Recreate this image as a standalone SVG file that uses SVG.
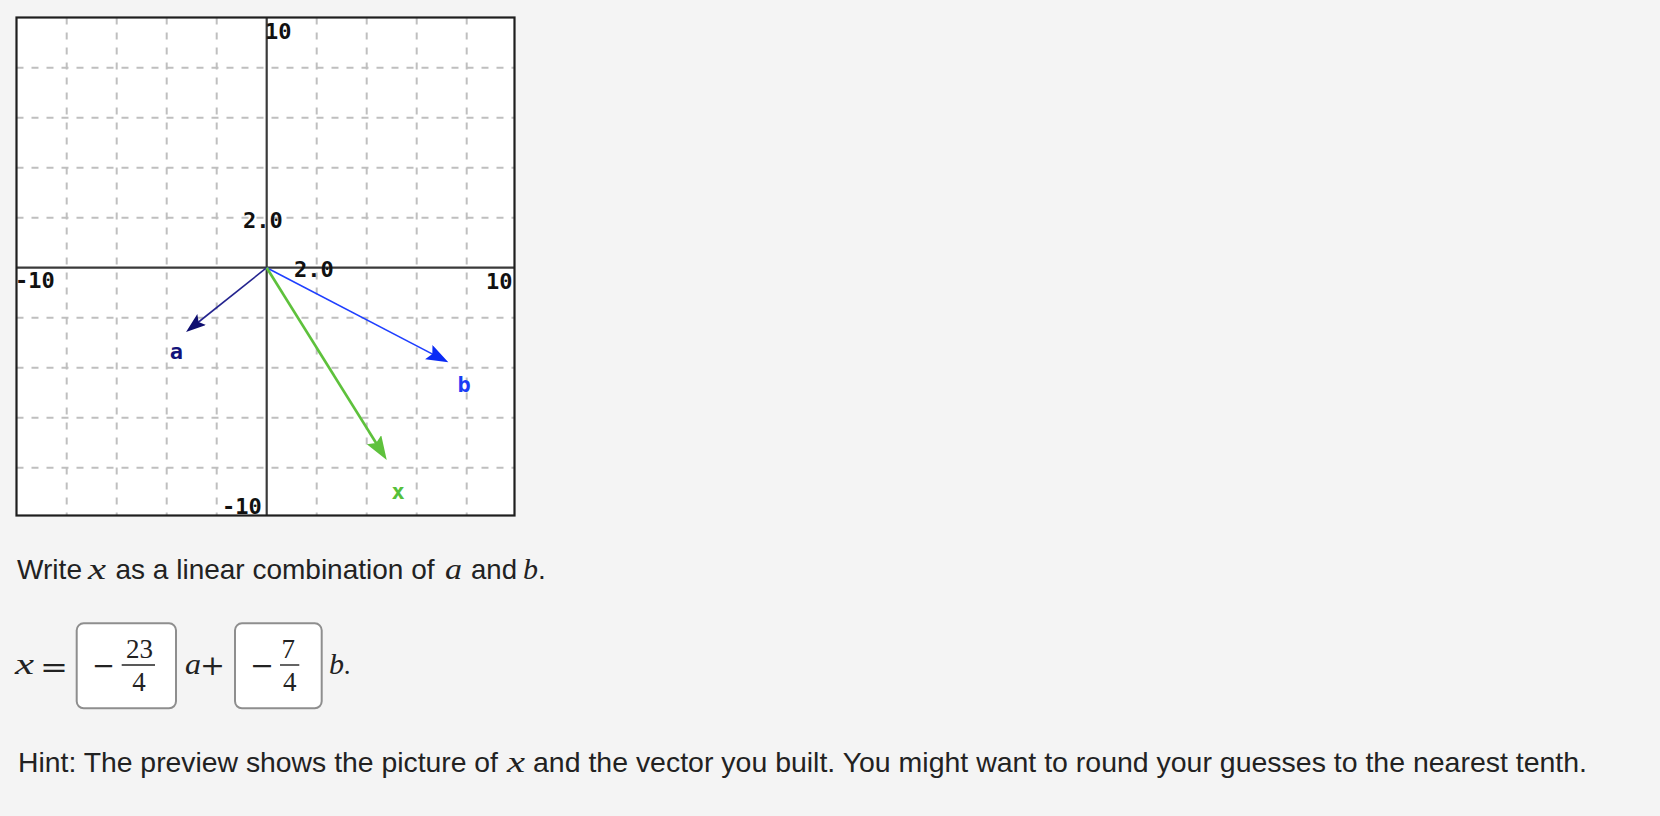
<svg xmlns="http://www.w3.org/2000/svg" width="1660" height="816" viewBox="0 0 1660 816">
<style>
.grid{stroke:#bfbfbf;stroke-width:2;stroke-dasharray:7 8;fill:none}
.axis{stroke:#3a3a3a;stroke-width:2.2}
.lbl{font-family:"DejaVu Sans Mono","Liberation Mono",monospace;font-weight:bold;font-size:22px;fill:#111}
.vl{font-family:"DejaVu Sans Mono","Liberation Mono",monospace;font-weight:bold;font-size:22px;text-anchor:middle}
.txt{font-family:"Liberation Sans",Arial,sans-serif;font-size:28px;fill:#222}
.mi{font-family:"Liberation Serif","Times New Roman",serif;font-style:italic;font-size:29px;fill:#222}
.mn{font-family:"Liberation Serif","Times New Roman",serif;font-size:27px;fill:#222;text-anchor:middle}
.op{font-family:"DejaVu Serif",serif;font-size:28px;fill:#222}
.inbox{fill:#fff;stroke:#8e8e8e;stroke-width:2}
.frac{stroke:#222;stroke-width:1.4}
</style>
<defs>
<marker id="ha" markerUnits="userSpaceOnUse" orient="auto" markerWidth="22" markerHeight="16" refX="12" refY="7" viewBox="0 0 22 16"><path d="M0,0 L20,7 L0,14 L4,7 z" fill="#0e0e70"/></marker>
<marker id="hb" markerUnits="userSpaceOnUse" orient="auto" markerWidth="24" markerHeight="18" refX="14" refY="8" viewBox="0 0 24 18"><path d="M0,0 L22,8 L0,16 L4,8 z" fill="#0a2af5"/></marker>
<marker id="hx" markerUnits="userSpaceOnUse" orient="auto" markerWidth="26" markerHeight="19" refX="16" refY="8.5" viewBox="0 0 26 19"><path d="M0,0 L24,8.5 L0,17 L4,8.5 z" fill="#5ec13c"/></marker>
</defs>
<rect x="0" y="0" width="1660" height="816" fill="#f4f4f4"/>

<g id="plot">
<rect x="16.5" y="17.5" width="498" height="498" fill="#fff"/>
<g id="grid" class="grid">
<path d="M66.7,17.5V515.5M116.7,17.5V515.5M166.7,17.5V515.5M216.7,17.5V515.5M316.7,17.5V515.5M366.7,17.5V515.5M416.7,17.5V515.5M466.7,17.5V515.5"/>
<path d="M16.5,67.7H514.5M16.5,117.7H514.5M16.5,167.7H514.5M16.5,217.7H514.5M16.5,317.7H514.5M16.5,367.7H514.5M16.5,417.7H514.5M16.5,467.7H514.5"/>
</g>
<g id="axes" class="axis">
<line x1="266.7" y1="17.5" x2="266.7" y2="515.5"/>
<line x1="16.5" y1="267.7" x2="514.5" y2="267.7"/>
</g>
<rect x="16.5" y="17.5" width="498" height="498" fill="none" stroke="#1e1e1e" stroke-width="2.2"/>
<g id="axis-labels" class="lbl">
<text x="265" y="39">10</text>
<text x="243" y="228">2.0</text>
<text x="294" y="277">2.0</text>
<text x="15" y="288">-10</text>
<text x="486" y="289">10</text>
<text x="222" y="514">-10</text>
</g>
</g>

<g id="connectors" fill="none">
<path id="vec-a" d="M266.7,267.7 L192.3,327" stroke="#24248f" stroke-width="1.6" marker-end="url(#ha)"/>
<path id="vec-b" d="M266.7,267.7 L441.2,358.6" stroke="#1f3fff" stroke-width="1.6" marker-end="url(#hb)"/>
<path id="vec-x" d="M266.7,267.7 L382.5,453.2" stroke="#5ec13c" stroke-width="2.6" marker-end="url(#hx)"/>
</g>
<g id="label-a"><text class="vl" x="176.3" y="359" fill="#12127a">a</text></g>
<g id="label-b"><text class="vl" x="464" y="392" fill="#1a3cf5">b</text></g>
<g id="label-x"><text class="vl" x="398" y="499" fill="#55c03a">x</text></g>

<g id="question">
<text class="txt" x="17" y="579" textLength="65" lengthAdjust="spacingAndGlyphs">Write</text>
<text class="mi" x="88" y="579" textLength="18" lengthAdjust="spacingAndGlyphs">x</text>
<text class="txt" x="115.5" y="579" textLength="319" lengthAdjust="spacingAndGlyphs">as a linear combination of</text>
<text class="mi" x="445" y="579" textLength="17" lengthAdjust="spacingAndGlyphs">a</text>
<text class="txt" x="471" y="579" textLength="46" lengthAdjust="spacingAndGlyphs">and</text>
<text class="mi" x="523" y="579" textLength="15" lengthAdjust="spacingAndGlyphs">b</text>
<text class="txt" x="538" y="579">.</text>
</g>

<g id="equation">
<text class="mi" x="15" y="674" textLength="19" lengthAdjust="spacingAndGlyphs">x</text>
<text class="op" x="40" y="677" textLength="28" lengthAdjust="spacingAndGlyphs">=</text>
<g id="input-1">
<rect class="inbox" x="76.7" y="623.3" width="99.3" height="85" rx="7"/>
<text class="op" x="92" y="675" textLength="23" lengthAdjust="spacingAndGlyphs">−</text>
<text class="mn" x="139.5" y="657.7">23</text>
<line class="frac" x1="121.7" y1="665" x2="155" y2="665"/>
<text class="mn" x="138.9" y="691">4</text>
</g>
<text class="mi" x="185" y="674" textLength="16" lengthAdjust="spacingAndGlyphs">a</text>
<text class="op" x="200" y="675" textLength="25" lengthAdjust="spacingAndGlyphs">+</text>
<g id="input-2">
<rect class="inbox" x="235" y="623.3" width="86.7" height="85" rx="7"/>
<text class="op" x="250" y="675" textLength="24" lengthAdjust="spacingAndGlyphs">−</text>
<text class="mn" x="288.3" y="657.7">7</text>
<line class="frac" x1="280" y1="665" x2="299.3" y2="665"/>
<text class="mn" x="289.7" y="691">4</text>
</g>
<text class="mi" x="329" y="674" textLength="15" lengthAdjust="spacingAndGlyphs">b</text>
<text class="mn" x="347" y="674">.</text>
</g>

<g id="hint">
<text class="txt" x="18" y="772" textLength="480" lengthAdjust="spacingAndGlyphs">Hint: The preview shows the picture of</text>
<text class="mi" x="507" y="772" textLength="18" lengthAdjust="spacingAndGlyphs">x</text>
<text class="txt" x="533" y="772" textLength="1054" lengthAdjust="spacingAndGlyphs">and the vector you built. You might want to round your guesses to the nearest tenth.</text>
</g>
</svg>
